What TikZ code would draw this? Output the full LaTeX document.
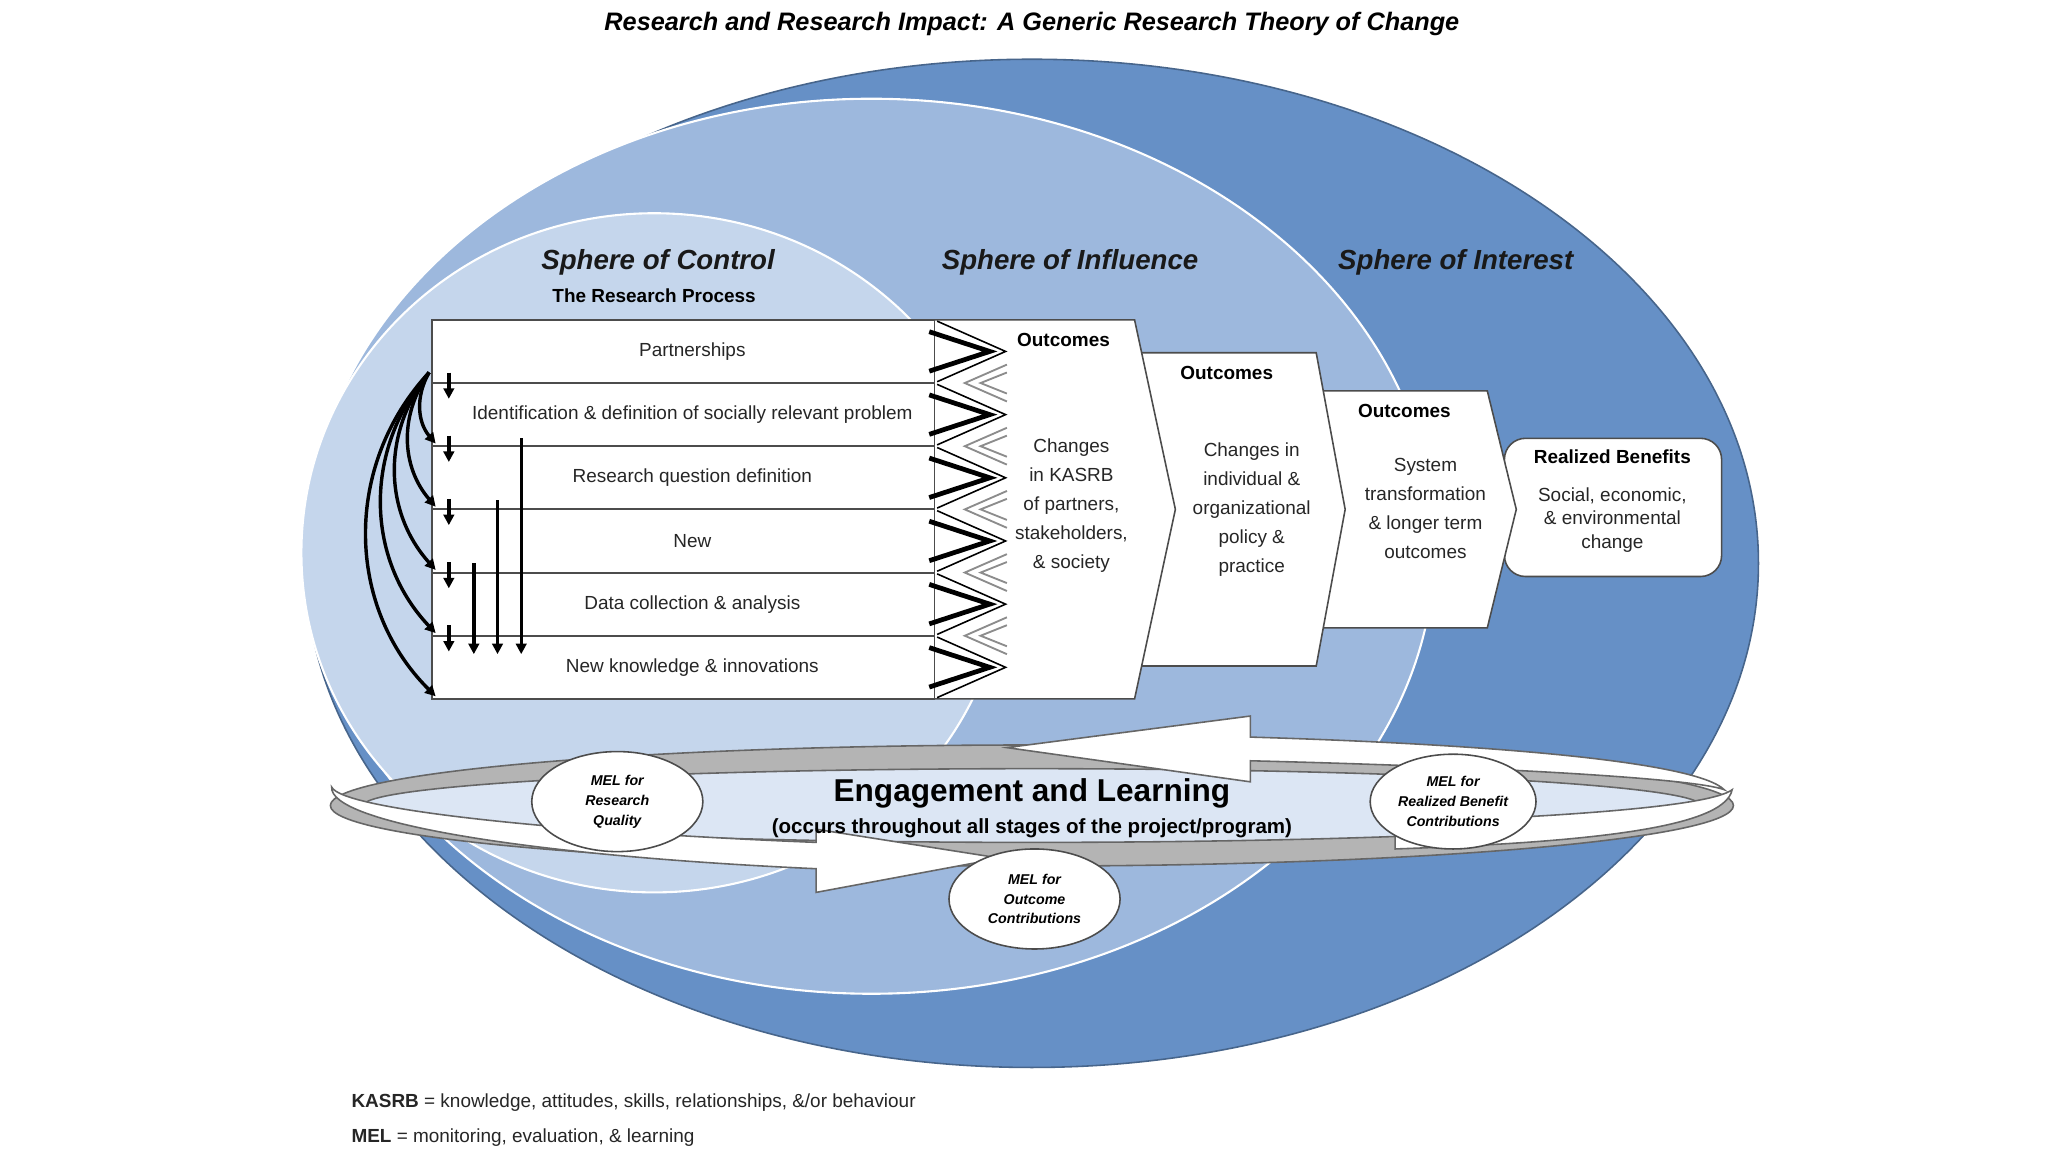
\documentclass[tikz,border=0pt]{standalone}
\usepackage{fontspec}
\setmainfont{Liberation Sans}
\usetikzlibrary{arrows.meta}
\definecolor{dblue}{HTML}{6690C6}
\definecolor{mblue}{HTML}{9DB8DD}
\definecolor{lblue}{HTML}{C5D6EC}
\definecolor{ringgray}{HTML}{B4B4B4}
\begin{document}
\begin{tikzpicture}[x=0.5pt,y=-0.5pt,
  txt/.style={font=\fontsize{7.2}{9}\selectfont,align=center,text=black!85},
  bt/.style={font=\bfseries\fontsize{7.2}{9}\selectfont,align=center},
  sph/.style={font=\bfseries\itshape\fontsize{10.5}{12}\selectfont,text=black!90},
  mel/.style={draw=black!70,fill=white,line width=0.6pt},
  melt/.style={font=\bfseries\itshape\fontsize{5.4}{7.5}\selectfont,align=center},
  obox/.style={draw=black!70,fill=white,line width=0.6pt},
  arr/.style={-{Triangle[length=4pt,width=4pt]},line width=1.3pt}]
\useasboundingbox (0,0) rectangle (1556,875);
\fill[white] (0,0) rectangle (1556,875);
\node[font=\bfseries\itshape\fontsize{9.6}{11}\selectfont] (title) at (784,18) {Research and Research Impact: A Generic Research Theory of Change};
% spheres
\draw[fill=dblue,draw=dblue!70!black,line width=0.6pt] (784,428) ellipse [x radius=552,y radius=383];
\draw[fill=mblue,draw=white,line width=0.8pt] (662,415) ellipse [x radius=428,y radius=340];
\draw[fill=lblue,draw=white,line width=0.8pt] (497,420) ellipse [x radius=268,y radius=258];
\node[sph] (soc) at (500,199) {Sphere of Control};
\node[bt] (trp) at (497,225) {The Research Process};
\node[sph] (soi) at (813,199) {Sphere of Influence};
\node[sph] (sin) at (1106,199) {Sphere of Interest};
% outcome boxes (back to front)
\draw[obox,rounded corners=8pt] (1143,333) rectangle (1308,438);
\node[bt] (rb) at (1225,347) {Realized Benefits};
\node[txt] (rbt) at (1225,395) {Social, economic,\\ \& environmental\\ change};
\draw[obox] (1005,297) -- (1130,297) -- (1152,387) -- (1130,477) -- (1005,477) -- cycle;
\node[bt] (o3) at (1067,312) {Outcomes};
\node[txt,align=center] (o3t) at (1083,386) {System\\[2pt] transformation\\[2pt] \& longer term\\[2pt] outcomes};
\draw[obox] (862,268) -- (1000,268) -- (1022,387) -- (1000,506) -- (862,506) -- cycle;
\node[bt] (o2) at (932,283) {Outcomes};
\node[txt] (o2t) at (951,387) {Changes in\\[2pt] individual \&\\[2pt] organizational\\[2pt] policy \&\\[2pt] practice};
\draw[obox] (700,243) -- (862,243) -- (893,387) -- (862,531) -- (700,531) -- cycle;
\node[bt] (o1) at (808,258) {Outcomes};
\node[txt] (o1t) at (814,384) {Changes\\[2pt] in KASRB\\[2pt] of partners,\\[2pt] stakeholders,\\[2pt] \& society};
% process rows
\draw[obox] (328,243) rectangle (710,531);
\foreach \t in {291,339,387,435,483} \draw[black!70,line width=0.8pt] (328,\t) -- (710,\t);
\foreach \t/\lab [count=\i] in {243/Partnerships,291/Identification \& definition of socially relevant problem,339/Research question definition,387/New/improved methods,435/Data collection \& analysis,483/New knowledge \& innovations}{
  \node[txt] (r\i) at (526,\t+24) {\lab};
  \draw[line width=1.8pt] (706,\t+9) -- (752,\t+24) -- (706,\t+39);
  \draw[line width=0.6pt] (712,\t+1) -- (764,\t+24) -- (712,\t+47);
}
\foreach \t in {291,339,387,435,483}{
  \draw[black!45,line width=0.7pt] (765,\t-14) -- (733,\t) -- (765,\t+14);
  \draw[black!45,line width=0.7pt] (765,\t-8) -- (745,\t) -- (765,\t+8);
}
% arrows on left
\coordinate (src) at (326,283);
\foreach \y/\b in {340/35,388/38,436/40,484/42,532/44}
  \draw[arr] (src) to[bend right=\b] (331,\y-3);
\foreach \t in {283,331,379,427,475} \draw[arr] (341,\t) -- (341,\t+20);
\draw[arr] (396,333) -- (396,497);
\draw[arr] (378,380) -- (378,497);
\draw[arr] (360,428) -- (360,497);
% engagement ring
\draw[fill=ringgray,draw=black!60,line width=0.6pt] (784,612) ellipse [x radius=533,y radius=46];
\draw[fill=lblue!60!white,draw=black!60,line width=0.6pt] (784,612) ellipse [x radius=508,y radius=28];
\draw[fill=white,draw=black!60,line width=0.6pt] (1316,600) .. controls (1310,630) and (1200,640) .. (1060,645) -- (1060,625) .. controls (1200,620) and (1300,612) .. (1316,600) -- cycle;
\draw[fill=white,draw=black!60,line width=0.6pt] (252,598) .. controls (250,625) and (400,650) .. (620,660) -- (620,678) -- (760,652) -- (620,630) -- (620,640) .. controls (420,632) and (260,615) .. (252,598) -- cycle;
\draw[fill=white,draw=black!60,line width=0.6pt] (1310,600) .. controls (1290,580) and (1150,566) .. (950,560) -- (950,544) -- (765,568) -- (950,594) -- (950,578) .. controls (1150,583) and (1290,592) .. (1310,600) -- cycle;
\node[font=\bfseries\fontsize{12}{14}\selectfont] (eng) at (784,603) {Engagement and Learning};
\node[bt,font=\bfseries\fontsize{7.8}{9}\selectfont] (occ) at (784,629) {(occurs throughout all stages of the project/program)};
\draw[mel] (469,609) ellipse [x radius=65,y radius=38];
\node[melt] (m1) at (469,609) {MEL for\\Research\\Quality};
\draw[mel] (786,683) ellipse [x radius=65,y radius=38];
\node[melt] (m2) at (786,683) {MEL for\\Outcome\\Contributions};
\draw[mel] (1104,609) ellipse [x radius=63,y radius=36];
\node[melt] (m3) at (1104,609) {MEL for\\Realized Benefit\\Contributions};
% footnotes
\node[txt,anchor=west] (f1) at (260,838) {\textbf{KASRB} = knowledge, attitudes, skills, relationships, \&/or behaviour};
\node[txt,anchor=west] (f2) at (260,864) {\textbf{MEL} = monitoring, evaluation, \& learning};
\end{tikzpicture}
\end{document}
